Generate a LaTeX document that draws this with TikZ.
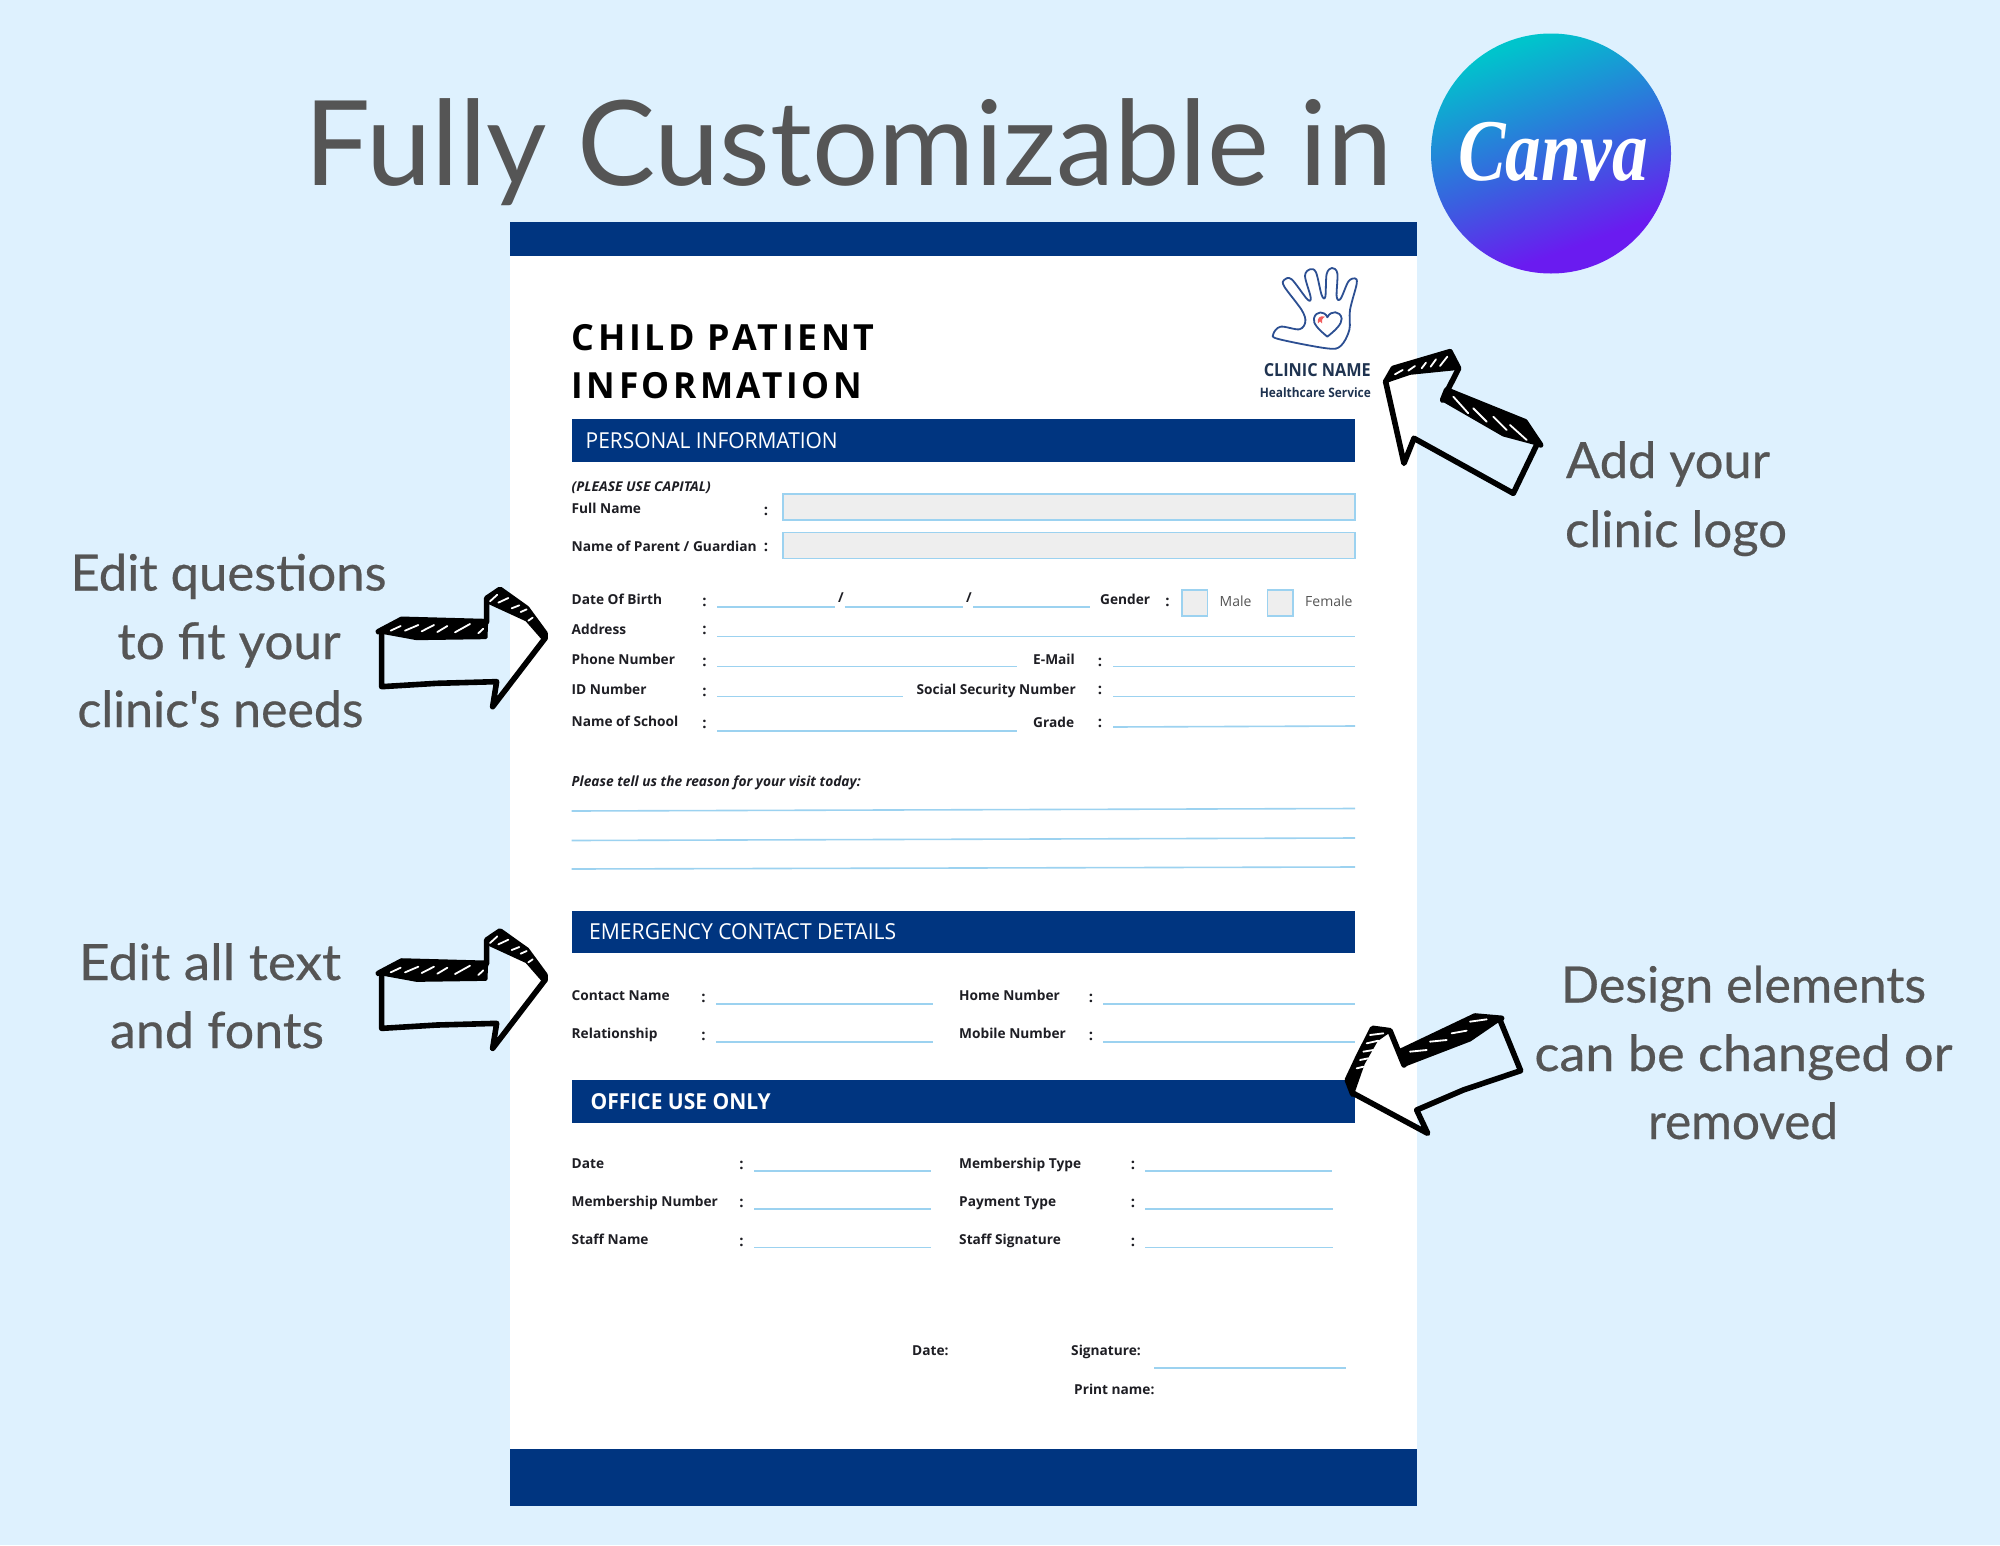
\documentclass[tikz,border=0pt]{standalone}
\usepackage{fontspec}
\usepackage{graphicx}
\setmainfont{Open Sans}
\newfontfamily\headfont{Lato}
\newfontfamily\sidefont[FakeBold=0.5]{Lato}
\newfontfamily\canvafont{Liberation Serif}
\definecolor{bgblue}{HTML}{DEF1FE}
\definecolor{navy}{HTML}{003580}
\definecolor{fieldline}{HTML}{9CD2F0}
\definecolor{fieldfill}{HTML}{EEEEEE}
\definecolor{headgray}{HTML}{555555}
\definecolor{inkdark}{HTML}{1E1E24}
\definecolor{clinicdark}{HTML}{1F3350}
\definecolor{logoblue}{HTML}{2C4F92}
\definecolor{logored}{HTML}{F25C5C}
\definecolor{cvteal}{HTML}{00C4CC}
\definecolor{cvblue}{HTML}{3A5FE0}
\definecolor{cvviolet}{HTML}{6A1BF0}
\pgfdeclareverticalshading{canvashade}{100bp}{color(0bp)=(cvviolet); color(30bp)=(cvviolet); color(47bp)=(cvblue); color(74bp)=(cvteal); color(100bp)=(cvteal)}
\newcommand{\fitw}[2]{\resizebox{#1pt}{\height}{#2}}
\tikzset{
  lbl/.style={anchor=base west,inner sep=0pt,font=\fontsize{13.7}{14}\selectfont\bfseries,text=inkdark},
  lblr/.style={anchor=base east,inner sep=0pt,font=\fontsize{13.7}{14}\selectfont\bfseries,text=inkdark},
  colon/.style={anchor=base,inner sep=0pt,font=\fontsize{15}{15}\selectfont\bfseries,text=inkdark},
  lite/.style={anchor=base west,inner sep=0pt,font=\fontsize{14}{14}\selectfont,text=headgray},
  secbar/.style={fill=navy,draw=none},
  sectxt/.style={anchor=base west,inner sep=0pt,text=white,font=\fontsize{22}{22}\selectfont},
  rule/.style={draw=fieldline,line width=1.6pt},
  field/.style={draw=fieldline,fill=fieldfill,line width=1.6pt},
  side/.style={anchor=base,inner sep=0pt,text=headgray,font=\sidefont\fontsize{50}{50}\selectfont},
  maintitle/.style={anchor=base west,inner sep=0pt,text=black,font=\fontsize{36}{36}\selectfont\bfseries\addfontfeatures{LetterSpace=10}},
  ink/.style={draw=black,line width=5.6pt,line join=round,line cap=round},
  band/.style={draw=black,line width=3pt,line join=round},
  hatch/.style={draw=white,line width=1.8pt,line cap=round},
}
\newcommand{\rightsketch}{%
  \filldraw[band] (55,185) -- (125,148) -- (380,155) -- (378,203) -- (170,206) -- cycle;
  \filldraw[band] (380,85) -- (420,58) -- (500,115) -- (555,190) -- (548,205) -- (500,150) -- (385,97) -- cycle;
  \draw[ink] (65,190) -- (65,350) -- (230,340) -- (410,335) -- (398,410) -- (555,205);
  \draw[ink] (55,185) -- (125,148) -- (380,155) -- (380,85) -- (420,58) -- (500,115) -- (555,190) -- (555,205);
  \foreach \a/\b/\c/\d in {92/182/122/168,135/182/175/165,185/184/222/165,232/186/262/168,285/187/330/162,355/190/370/176,390/94/412/74,415/98/445/84,455/115/478/106,482/126/500/118,505/152/518/143}
    {\draw[hatch] (\a,\b) -- (\c,\d);}
}
\begin{document}
\begin{tikzpicture}[x=1pt,y=-1pt]
\useasboundingbox (0,0) rectangle (2000,1545);
\fill[bgblue] (0,0) rectangle (2000,1545);

% heading
\node[anchor=base west,inner sep=0pt,text=headgray,font=\headfont\fontsize{118}{118}\selectfont] (heading) at (304,185) {\fitw{1088}{Fully Customizable in}};

% Canva badge
\shade[shading=canvashade,shading angle=20] (1551,153.5) circle (120);
\node[anchor=base,inner sep=0pt,text=white,font=\canvafont\fontsize{88}{88}\selectfont\bfseries\itshape] (canva) at (1553,180) {\fitw{190}{Canva}};

% page
\fill[white] (510,222) rectangle (1417,1506);
\fill[navy] (510,222) rectangle (1417,256);
\fill[navy] (510,1449) rectangle (1417,1506);

% title
\node[maintitle] (title1) at (571.5,350) {\fitw{303}{CHILD PATIENT}};
\node[maintitle] (title2) at (571.5,398) {\fitw{290}{INFORMATION}};

% logo
\begin{scope}[shift={(1220,240)},x=0.3333pt,y=-0.3333pt]
\draw[logoblue,line width=1.8pt,line join=round] plot[smooth cycle,tension=0.55] coordinates {(160,282) (182,260) (238,268) (256,245) (245,210) (193,140) (192,120) (215,118) (262,178) (272,172) (255,108) (270,88) (288,97) (305,165) (316,170) (320,102) (336,84) (352,100) (350,170) (362,176) (385,125) (405,115) (410,132) (390,210) (388,270) (362,318) (320,325) (175,297)};
\draw[logoblue,line width=1.8pt,line join=round] (322,290) .. controls (295,268) and (278,250) .. (282,235) .. controls (287,212) and (315,212) .. (322,232) .. controls (332,210) and (362,212) .. (365,236) .. controls (366,252) and (345,272) .. (322,290) -- cycle;
\fill[logored] (294,250) .. controls (290,235) and (300,225) .. (315,230) .. controls (306,236) and (304,242) .. (306,250) -- (300,244) -- cycle;
\end{scope}
\node[anchor=base east,inner sep=0pt,text=clinicdark,font=\fontsize{18}{18}\selectfont\bfseries] (clinic) at (1371,376) {\fitw{107}{CLINIC NAME}};
\node[anchor=base east,inner sep=0pt,text=clinicdark,font=\fontsize{13}{13}\selectfont\bfseries] (service) at (1371,397) {\fitw{111}{Healthcare Service}};

% section bars
\fill[secbar] (571.5,419) rectangle (1355,462);
\fill[secbar] (571.5,911) rectangle (1355,953);
\fill[secbar] (571.5,1080) rectangle (1355,1123);
\node[sectxt] (sec1) at (585.5,448) {\fitw{252}{PERSONAL INFORMATION}};
\node[sectxt] (sec2) at (589,939) {\fitw{307}{EMERGENCY CONTACT DETAILS}};
\node[sectxt,font=\fontsize{22}{22}\selectfont\bfseries] (sec3) at (590.5,1109) {\fitw{180}{OFFICE USE ONLY}};

% personal information
\node[lbl,font=\fontsize{13.5}{14}\selectfont\bfseries\itshape] (capital) at (571.5,491) {\fitw{139}{(PLEASE USE CAPITAL)}};
\node[lbl] (lfull) at (571.5,513) {Full Name};
\node[colon] (cfull) at (766,515) {:};
\draw[field] (783,494) rectangle (1355,520);
\node[lbl] (lparent) at (571.5,551) {\fitw{185}{Name of Parent / Guardian}};
\node[colon] (cparent) at (766,551) {:};
\draw[field] (783,532.5) rectangle (1355,558.5);

\node[lbl] (ldob) at (571.5,604) {Date Of Birth};
\node[colon] (cdob) at (704.5,606) {:};
\draw[rule] (717,607) -- (835,607);
\node[lbl] (slash1) at (838,602) {/};
\draw[rule] (844.5,607) -- (963,607);
\node[lbl] (slash2) at (966,602) {/};
\draw[rule] (973,607) -- (1090,607);
\node[lbl] (lgender) at (1100,604) {Gender};
\node[colon] (cgender) at (1167.5,606) {:};
\draw[field] (1182,590) rectangle (1207.5,616);
\node[lite] (lmale) at (1219.5,606) {Male};
\draw[field] (1267.5,590) rectangle (1293,616);
\node[lite] (lfemale) at (1305,606) {Female};

\node[lbl] (laddr) at (571.5,634) {Address};
\node[colon] (caddr) at (704.5,634) {:};
\draw[rule] (717,636.5) -- (1355,636.5);

\node[lbl] (lphone) at (571.5,664) {Phone Number};
\node[colon] (cphone) at (704.5,666) {:};
\draw[rule] (717,666.5) -- (1017,666.5);
\node[lbl] (lmail) at (1033,664) {E-Mail};
\node[colon] (cmail) at (1100,666) {:};
\draw[rule] (1113,666.5) -- (1355,666.5);

\node[lbl] (lid) at (571.5,694) {ID Number};
\node[colon] (cid) at (704.5,696) {:};
\draw[rule] (717,696.5) -- (902.5,696.5);
\node[lblr] (lssn) at (1076,694) {Social Security Number};
\node[colon] (cssn) at (1100,694) {:};
\draw[rule] (1113,696.5) -- (1355,696.5);

\node[lbl] (lschool) at (571.5,726) {Name of School};
\node[colon] (cschool) at (704.5,728) {:};
\draw[rule] (717,731) -- (1017,731);
\node[lbl] (lgrade) at (1033,727) {Grade};
\node[colon] (cgrade) at (1100,727) {:};
\draw[rule] (1113,727) -- (1355,726);

\node[lbl,font=\fontsize{14}{14}\selectfont\bfseries\itshape] (lreason) at (571.5,786) {\fitw{289}{Please tell us the reason for your visit today:}};
\draw[rule] (571.5,811) -- (1355,808.5);
\draw[rule] (571.5,840.5) -- (1355,838);
\draw[rule] (571.5,869) -- (1355,867);

% emergency contact
\node[lbl] (lcname) at (571.5,1000) {Contact Name};
\node[colon] (ccname) at (703.5,1002) {:};
\draw[rule] (716,1004) -- (932.5,1004);
\node[lbl] (lhome) at (959,1000) {Home Number};
\node[colon] (chome) at (1091,1002) {:};
\draw[rule] (1103,1004) -- (1355,1004);
\node[lbl] (lrel) at (571.5,1038) {Relationship};
\node[colon] (crel) at (703.5,1040) {:};
\draw[rule] (716,1042) -- (932.5,1042);
\node[lbl] (lmob) at (959,1038) {Mobile Number};
\node[colon] (cmob) at (1091,1040) {:};
\draw[rule] (1103,1042) -- (1355,1042);

% office use
\node[lbl] (ldate) at (571.5,1168) {Date};
\node[colon] (cdate) at (741.5,1169) {:};
\draw[rule] (754,1171) -- (931,1171);
\node[lbl] (lmtype) at (959,1168) {Membership Type};
\node[colon] (cmtype) at (1133,1169) {:};
\draw[rule] (1145,1171) -- (1332,1171);
\node[lbl] (lmnum) at (571.5,1206) {Membership Number};
\node[colon] (cmnum) at (741.5,1207) {:};
\draw[rule] (754,1209) -- (931,1209);
\node[lbl] (lpay) at (959,1206) {Payment Type};
\node[colon] (cpay) at (1133,1207) {:};
\draw[rule] (1145,1209) -- (1333,1209);
\node[lbl] (lstaff) at (571.5,1244) {Staff Name};
\node[colon] (cstaff) at (741.5,1246) {:};
\draw[rule] (754,1247.5) -- (931,1247.5);
\node[lbl] (lssig) at (959,1244) {Staff Signature};
\node[colon] (cssig) at (1133,1246) {:};
\draw[rule] (1145,1247.5) -- (1333,1247.5);

% signature block
\node[lbl] (lsdate) at (912,1355) {Date:};
\node[lbl] (lsign) at (1071,1355) {Signature:};
\draw[rule] (1154,1368) -- (1346,1368);
\node[lbl] (lprint) at (1074,1394) {Print name:};

% side labels
\node[side] (add1) at (1668,478) {\fitw{204}{Add your}};
\node[side] (add2) at (1676,547) {\fitw{222}{clinic logo}};
\node[side] (edq1) at (228.5,590.5) {\fitw{316}{Edit questions}};
\node[side] (edq2) at (229,659) {\fitw{223}{to fit your}};
\node[side] (edq3) at (220.5,727) {\fitw{286}{clinic's needs}};
\node[side] (edt1) at (210,980) {\fitw{262}{Edit all text}};
\node[side] (edt2) at (217,1048) {\fitw{214}{and fonts}};
\node[side] (des1) at (1743.5,1002.5) {\fitw{365}{Design elements}};
\node[side] (des2) at (1743.5,1071) {\fitw{418}{can be changed or}};
\node[side] (des3) at (1743,1139) {\fitw{190}{removed}};

% sketched arrows
\begin{scope}[shift={(360,570)},x=0.3333pt,y=-0.3333pt]\rightsketch\end{scope}
\begin{scope}[shift={(360,911.7)},x=0.3333pt,y=-0.3333pt]\rightsketch\end{scope}

\begin{scope}[shift={(1220,240)},x=0.3333pt,y=-0.3333pt]
  \filldraw[band] (497,425) -- (520,385) -- (690,335) -- (718,385) -- (570,400) -- cycle;
  \filldraw[band] (680,450) -- (915,545) -- (962,615) -- (850,585) -- (668,480) -- cycle;
  \draw[ink] (497,425) -- (552,670) -- (582,595) -- (880,760) -- (950,615);
  \draw[ink] (497,425) -- (520,385) -- (690,335) -- (716,385) -- (668,480) -- (680,450) -- (915,545) -- (962,615);
  \foreach \a/\b/\c/\d in {525/403/548/390,565/392/585/378,605/385/618/368,632/380/648/358,660/378/682/350,700/470/745/520,760/505/800/545,820/530/860/570,870/555/920/600}
    {\draw[hatch] (\a,\b) -- (\c,\d);}
\end{scope}

\begin{scope}[shift={(1330,1000)},x=0.3333pt,y=-0.3333pt]
  \filldraw[band] (68,282) -- (52,240) -- (85,170) -- (128,85) -- (180,92) -- (140,120) -- (100,190) -- cycle;
  \filldraw[band] (210,155) -- (435,48) -- (515,55) -- (420,120) -- (225,195) -- cycle;
  \draw[ink] (70,280) -- (293,400) -- (260,330) -- (400,270) -- (572,212) -- (510,60);
  \draw[ink] (68,282) -- (52,240) -- (85,170) -- (128,85) -- (180,92) -- (222,195) -- (210,155) -- (435,48) -- (515,55);
  \foreach \a/\b/\c/\d in {120/105/160/100,110/130/145/122,100/155/130/150,90/180/115/175,80/205/100/200,240/155/290/150,300/125/350/120,365/100/410/92,420/65/470/58}
    {\draw[hatch] (\a,\b) -- (\c,\d);}
\end{scope}
\end{tikzpicture}
\end{document}
